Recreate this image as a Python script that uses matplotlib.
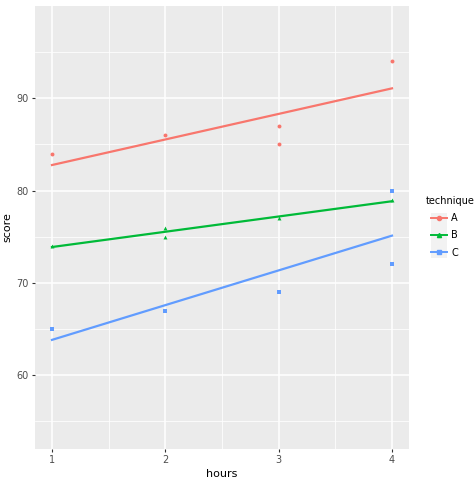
import numpy as np
import matplotlib
matplotlib.use("Agg")
import matplotlib.pyplot as plt
from matplotlib.lines import Line2D
from matplotlib.patches import Rectangle

techniques = ["A", "B", "C"]
hours_a = [1, 2, 3, 3, 4]
score_a = [84, 86, 87, 85, 94]
hours_b = [1, 2, 2, 3, 4]
score_b = [74, 76, 75, 77, 79]
hours_c = [1, 2, 3, 4, 4]
score_c = [65, 67, 69, 80, 72]

colors = ["#F8766D", "#00BA38", "#619CFF"]
markers = ["o", "^", "s"]
series = [(hours_a, score_a), (hours_b, score_b), (hours_c, score_c)]

fig = plt.figure(figsize=(4.74, 4.82), dpi=100)
ax = fig.add_axes([35 / 474, 1 - 449 / 482, (409 - 35) / 474, (449 - 6) / 482])
ax.set_facecolor("#EBEBEB")
for s in ax.spines.values():
    s.set_visible(False)

ax.set_xlim(0.85, 4.15)
ax.set_ylim(52, 100)
ax.set_xticks([1, 2, 3, 4])
ax.set_yticks([60, 70, 80, 90])
ax.set_xticks([1.5, 2.5, 3.5], minor=True)
ax.set_yticks([55, 65, 75, 85, 95], minor=True)
ax.grid(which="major", color="white", linewidth=1.1)
ax.grid(which="minor", color="white", linewidth=0.55)
ax.set_axisbelow(True)
ax.tick_params(which="major", length=2.5, width=0.8, color="#333333",
               labelsize=7, labelcolor="#4D4D4D", pad=2)
ax.tick_params(which="minor", length=0)

handles = []
for name, (hx, hy), c, m in zip(techniques, series, colors, markers):
    hx = np.array(hx, dtype=float)
    hy = np.array(hy, dtype=float)
    ax.scatter(hx, hy, s=8, color=c, marker=m, linewidths=0, zorder=3)
    # linear fit like geom_smooth(method = "lm", se = FALSE)
    k, b = np.polyfit(hx, hy, 1)
    xs = np.array([hx.min(), hx.max()])
    ax.plot(xs, k * xs + b, color=c, linewidth=1.6, zorder=2)
    handles.append(Line2D([], [], color=c, marker=m, markersize=3, linewidth=1.4))

ax.set_xlabel("hours", fontsize=8, labelpad=3)
ax.set_ylabel("score", fontsize=8, labelpad=3)

# legend: title, key background, entries
fig.text(426 / 474, 1 - 201 / 482, "technique", fontsize=7, va="center", ha="left")
fig.patches.append(Rectangle((431 / 474, 1 - 258 / 482), 16 / 474, 45 / 482,
                             transform=fig.transFigure, facecolor="#F2F2F2",
                             edgecolor="none", zorder=0))
leg = fig.legend(handles, techniques, loc="upper left",
                 bbox_to_anchor=(431 / 474, 1 - 213 / 482), frameon=False,
                 fontsize=7, handlelength=1.6, handletextpad=0.5,
                 labelspacing=0.75, borderaxespad=0, borderpad=0)

fig.savefig("out.png", dpi=100)
